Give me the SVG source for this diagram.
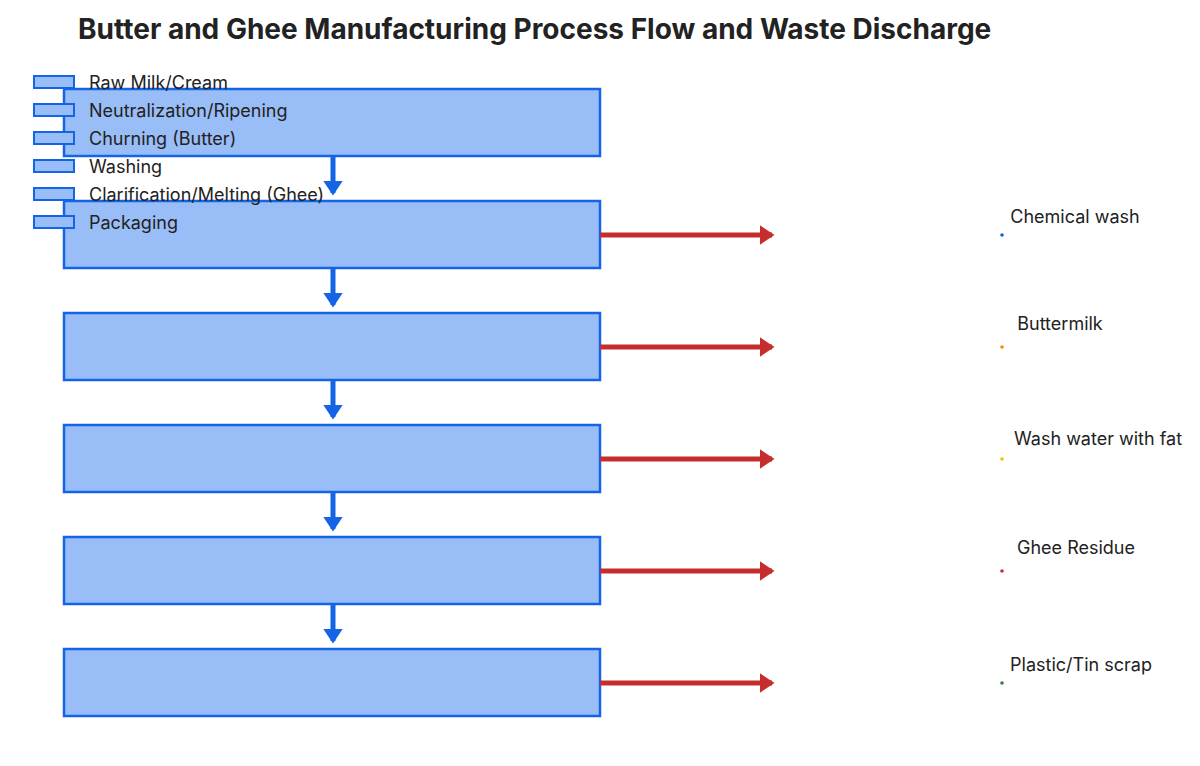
<svg xmlns="http://www.w3.org/2000/svg" width="1200" height="766" viewBox="0 0 1200 766">
<style>
.box{fill:#99bdf6;stroke:#1464e6;stroke-width:2.5}
.leg{fill:#99bdf6;stroke:#1464e6;stroke-width:2}
text{font-family:Inter,"Noto Sans",sans-serif;fill:#222}
.lt{font-size:18px}
.bl{stroke:#1464e6;stroke-width:5;fill:none}
.rd{stroke:#c62d2d;stroke-width:5;fill:none}
</style>
<defs>
<marker id="ab" markerWidth="4" markerHeight="4" refX="2.5" refY="2" orient="auto" markerUnits="strokeWidth"><path d="M0,0L3,2L0,4z" fill="#1464e6"/></marker>
<marker id="ar" markerWidth="4" markerHeight="4" refX="2.5" refY="2" orient="auto" markerUnits="strokeWidth"><path d="M0,0L3,2L0,4z" fill="#c62d2d"/></marker>
</defs>
<rect width="1200" height="766" fill="#fff"/>
<text x="78" y="39" font-size="28" font-weight="bold">Butter and Ghee Manufacturing Process Flow and Waste Discharge</text>
<g id="n1"><rect class="box" x="64" y="89" width="536" height="67"/></g>
<g id="n2"><rect class="box" x="64" y="201" width="536" height="67"/></g>
<g id="n3"><rect class="box" x="64" y="313" width="536" height="67"/></g>
<g id="n4"><rect class="box" x="64" y="425" width="536" height="67"/></g>
<g id="n5"><rect class="box" x="64" y="537" width="536" height="67"/></g>
<g id="n6"><rect class="box" x="64" y="649" width="536" height="67"/></g>
<g id="connectors">
<path class="bl" d="M333 156V193" marker-end="url(#ab)"/>
<path class="bl" d="M333 268V305" marker-end="url(#ab)"/>
<path class="bl" d="M333 380V417" marker-end="url(#ab)"/>
<path class="bl" d="M333 492V529" marker-end="url(#ab)"/>
<path class="bl" d="M333 604V641" marker-end="url(#ab)"/>
<path class="rd" d="M600 235H772" marker-end="url(#ar)"/>
<path class="rd" d="M600 347H772" marker-end="url(#ar)"/>
<path class="rd" d="M600 459H772" marker-end="url(#ar)"/>
<path class="rd" d="M600 571H772" marker-end="url(#ar)"/>
<path class="rd" d="M600 683H772" marker-end="url(#ar)"/>
</g>
<g id="legend">
<rect class="leg" x="34" y="76" width="40" height="12"/><text class="lt" x="89" y="89">Raw Milk/Cream</text>
<rect class="leg" x="34" y="104" width="40" height="12"/><text class="lt" x="89" y="117">Neutralization/Ripening</text>
<rect class="leg" x="34" y="132" width="40" height="12"/><text class="lt" x="89" y="145">Churning (Butter)</text>
<rect class="leg" x="34" y="160" width="40" height="12"/><text class="lt" x="89" y="173">Washing</text>
<rect class="leg" x="34" y="188" width="40" height="12"/><text class="lt" x="89" y="201">Clarification/Melting (Ghee)</text>
<rect class="leg" x="34" y="216" width="40" height="12"/><text class="lt" x="89" y="229">Packaging</text>
</g>
<g id="waste">
<circle cx="1002" cy="235" r="1.8" fill="#1464e6"/><text class="lt" x="1075" y="223" text-anchor="middle">Chemical wash</text>
<circle cx="1002" cy="347" r="1.8" fill="#ff8c00"/><text class="lt" x="1060" y="330" text-anchor="middle">Buttermilk</text>
<circle cx="1002" cy="459" r="1.8" fill="#f5c000"/><text class="lt" x="1014" y="445">Wash water with fat</text>
<circle cx="1002" cy="571" r="1.8" fill="#d0283c"/><text class="lt" x="1076" y="554" text-anchor="middle">Ghee Residue</text>
<circle cx="1002" cy="683" r="1.8" fill="#3a7d3a"/><text class="lt" x="1081" y="671" text-anchor="middle">Plastic/Tin scrap</text>
</g>
</svg>
